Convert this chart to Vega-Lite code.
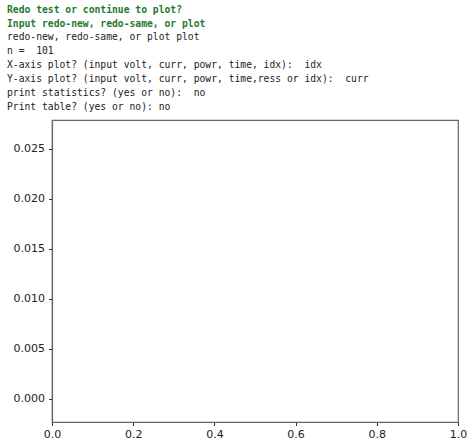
{
  "$schema": "https://vega.github.io/schema/vega-lite/v6.json",
  "autosize": {"type": "none"},
  "width": 406,
  "height": 302,
  "padding": {"left": 52, "top": 120, "right": 16, "bottom": 25},
  "background": "white",
  "title": {
    "text": ["Redo test or continue to plot?", "Input redo-new, redo-same, or plot"],
    "subtitle": [
      "redo-new, redo-same, or plot plot",
      "n =\u00a0\u00a0101",
      "X-axis plot? (input volt, curr, powr, time, idx):\u00a0\u00a0idx",
      "Y-axis plot? (input volt, curr, powr, time,ress or idx):\u00a0\u00a0curr",
      "print statistics? (yes or no):\u00a0\u00a0no",
      "Print table? (yes or no): no"
    ],
    "anchor": "start",
    "frame": "group",
    "dx": -45,
    "offset": 8,
    "font": "DejaVu Sans Mono",
    "fontSize": 9.7,
    "fontWeight": "bold",
    "color": "#1f7a30",
    "lineHeight": 14,
    "subtitleFont": "DejaVu Sans Mono",
    "subtitleFontSize": 9.7,
    "subtitleColor": "#222222",
    "subtitleLineHeight": 14,
    "subtitlePadding": 4
  },
  "data": {"values": [{"idx": null, "curr": null}]},
  "mark": {"type": "point", "color": "#1f77b4"},
  "encoding": {
    "x": {
      "field": "idx",
      "type": "quantitative",
      "scale": {"domain": [0, 1], "nice": false, "zero": false},
      "axis": {"values": [0, 0.2, 0.4, 0.6, 0.8, 1.0], "format": ".1f", "title": null}
    },
    "y": {
      "field": "curr",
      "type": "quantitative",
      "scale": {"domain": [-0.00234, 0.02788], "nice": false, "zero": false},
      "axis": {"values": [0, 0.005, 0.01, 0.015, 0.02, 0.025], "format": ".3f", "title": null}
    }
  },
  "config": {
    "view": {"stroke": "#666666", "strokeWidth": 1.2},
    "axis": {
      "grid": false,
      "domainColor": "#666666",
      "domainWidth": 1.2,
      "tickColor": "#333333",
      "tickSize": 3.5,
      "labelFont": "DejaVu Sans",
      "labelFontSize": 11,
      "labelColor": "#222222",
      "labelPadding": 3,
      "labelFlush": false,
      "labelOverlap": false
    },
    "axisY": {"labelPadding": 4}
  }
}
